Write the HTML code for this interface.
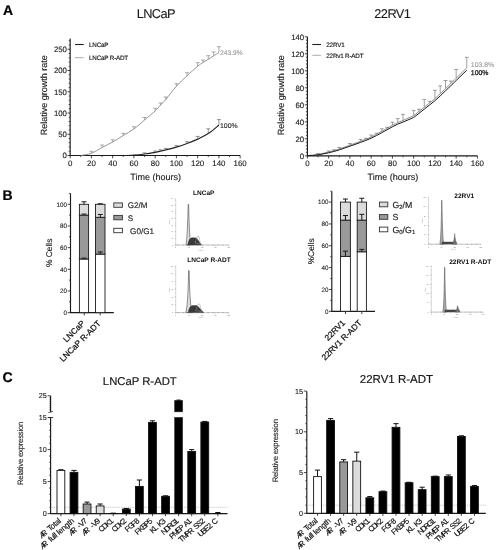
<!DOCTYPE html>
<html><head><meta charset="utf-8"><title>Figure</title>
<style>
html,body{margin:0;padding:0;background:#fff;}
body{width:496px;height:550px;overflow:hidden;}
svg{display:block;text-rendering:geometricPrecision;font-family:'Liberation Sans', Arial, sans-serif;}
</style></head><body>
<svg width="496" height="550" viewBox="0 0 496 550">
<rect x="0" y="0" width="496" height="550" fill="#fff"/>
<text x="3.00" y="14.60" font-size="14" text-anchor="start" fill="#000" font-weight="bold"  stroke="#000" stroke-width="0.224">A</text>
<text x="2.60" y="199.70" font-size="14" text-anchor="start" fill="#000" font-weight="bold"  stroke="#000" stroke-width="0.224">B</text>
<text x="2.60" y="382.30" font-size="14" text-anchor="start" fill="#000" font-weight="bold"  stroke="#000" stroke-width="0.224">C</text>
<line x1="70.15" y1="155.90" x2="70.15" y2="38.62" stroke="#1a1a1a" stroke-width="1.15" />
<line x1="69.75" y1="155.50" x2="240.15" y2="155.50" stroke="#1a1a1a" stroke-width="1.15" />
<line x1="67.55" y1="155.50" x2="70.15" y2="155.50" stroke="#1a1a1a" stroke-width="0.8" />
<text x="66.95" y="158.35" font-size="7.8" text-anchor="end" fill="#222" font-weight="normal"  stroke="#222" stroke-width="0.125">0</text>
<line x1="68.65" y1="151.25" x2="70.15" y2="151.25" stroke="#1a1a1a" stroke-width="0.7" />
<line x1="68.65" y1="147.00" x2="70.15" y2="147.00" stroke="#1a1a1a" stroke-width="0.7" />
<line x1="68.65" y1="142.75" x2="70.15" y2="142.75" stroke="#1a1a1a" stroke-width="0.7" />
<line x1="68.65" y1="138.50" x2="70.15" y2="138.50" stroke="#1a1a1a" stroke-width="0.7" />
<line x1="67.55" y1="134.25" x2="70.15" y2="134.25" stroke="#1a1a1a" stroke-width="0.8" />
<text x="66.95" y="137.10" font-size="7.8" text-anchor="end" fill="#222" font-weight="normal"  stroke="#222" stroke-width="0.125">50</text>
<line x1="68.65" y1="130.00" x2="70.15" y2="130.00" stroke="#1a1a1a" stroke-width="0.7" />
<line x1="68.65" y1="125.75" x2="70.15" y2="125.75" stroke="#1a1a1a" stroke-width="0.7" />
<line x1="68.65" y1="121.50" x2="70.15" y2="121.50" stroke="#1a1a1a" stroke-width="0.7" />
<line x1="68.65" y1="117.25" x2="70.15" y2="117.25" stroke="#1a1a1a" stroke-width="0.7" />
<line x1="67.55" y1="113.00" x2="70.15" y2="113.00" stroke="#1a1a1a" stroke-width="0.8" />
<text x="66.95" y="115.85" font-size="7.8" text-anchor="end" fill="#222" font-weight="normal"  stroke="#222" stroke-width="0.125">100</text>
<line x1="68.65" y1="108.75" x2="70.15" y2="108.75" stroke="#1a1a1a" stroke-width="0.7" />
<line x1="68.65" y1="104.50" x2="70.15" y2="104.50" stroke="#1a1a1a" stroke-width="0.7" />
<line x1="68.65" y1="100.25" x2="70.15" y2="100.25" stroke="#1a1a1a" stroke-width="0.7" />
<line x1="68.65" y1="96.00" x2="70.15" y2="96.00" stroke="#1a1a1a" stroke-width="0.7" />
<line x1="67.55" y1="91.75" x2="70.15" y2="91.75" stroke="#1a1a1a" stroke-width="0.8" />
<text x="66.95" y="94.60" font-size="7.8" text-anchor="end" fill="#222" font-weight="normal"  stroke="#222" stroke-width="0.125">150</text>
<line x1="68.65" y1="87.50" x2="70.15" y2="87.50" stroke="#1a1a1a" stroke-width="0.7" />
<line x1="68.65" y1="83.25" x2="70.15" y2="83.25" stroke="#1a1a1a" stroke-width="0.7" />
<line x1="68.65" y1="79.00" x2="70.15" y2="79.00" stroke="#1a1a1a" stroke-width="0.7" />
<line x1="68.65" y1="74.75" x2="70.15" y2="74.75" stroke="#1a1a1a" stroke-width="0.7" />
<line x1="67.55" y1="70.50" x2="70.15" y2="70.50" stroke="#1a1a1a" stroke-width="0.8" />
<text x="66.95" y="73.35" font-size="7.8" text-anchor="end" fill="#222" font-weight="normal"  stroke="#222" stroke-width="0.125">200</text>
<line x1="68.65" y1="66.25" x2="70.15" y2="66.25" stroke="#1a1a1a" stroke-width="0.7" />
<line x1="68.65" y1="62.00" x2="70.15" y2="62.00" stroke="#1a1a1a" stroke-width="0.7" />
<line x1="68.65" y1="57.75" x2="70.15" y2="57.75" stroke="#1a1a1a" stroke-width="0.7" />
<line x1="68.65" y1="53.50" x2="70.15" y2="53.50" stroke="#1a1a1a" stroke-width="0.7" />
<line x1="67.55" y1="49.25" x2="70.15" y2="49.25" stroke="#1a1a1a" stroke-width="0.8" />
<text x="66.95" y="52.10" font-size="7.8" text-anchor="end" fill="#222" font-weight="normal"  stroke="#222" stroke-width="0.125">250</text>
<line x1="68.65" y1="45.00" x2="70.15" y2="45.00" stroke="#1a1a1a" stroke-width="0.7" />
<line x1="68.65" y1="40.75" x2="70.15" y2="40.75" stroke="#1a1a1a" stroke-width="0.7" />
<line x1="70.15" y1="155.50" x2="70.15" y2="158.30" stroke="#1a1a1a" stroke-width="0.8" />
<text x="70.15" y="166.10" font-size="7.9" text-anchor="middle" fill="#222" font-weight="normal"  stroke="#222" stroke-width="0.126">0</text>
<line x1="80.78" y1="155.50" x2="80.78" y2="157.10" stroke="#1a1a1a" stroke-width="0.7" />
<line x1="91.40" y1="155.50" x2="91.40" y2="158.30" stroke="#1a1a1a" stroke-width="0.8" />
<text x="91.40" y="166.10" font-size="7.9" text-anchor="middle" fill="#222" font-weight="normal"  stroke="#222" stroke-width="0.126">20</text>
<line x1="102.03" y1="155.50" x2="102.03" y2="157.10" stroke="#1a1a1a" stroke-width="0.7" />
<line x1="112.65" y1="155.50" x2="112.65" y2="158.30" stroke="#1a1a1a" stroke-width="0.8" />
<text x="112.65" y="166.10" font-size="7.9" text-anchor="middle" fill="#222" font-weight="normal"  stroke="#222" stroke-width="0.126">40</text>
<line x1="123.28" y1="155.50" x2="123.28" y2="157.10" stroke="#1a1a1a" stroke-width="0.7" />
<line x1="133.90" y1="155.50" x2="133.90" y2="158.30" stroke="#1a1a1a" stroke-width="0.8" />
<text x="133.90" y="166.10" font-size="7.9" text-anchor="middle" fill="#222" font-weight="normal"  stroke="#222" stroke-width="0.126">60</text>
<line x1="144.53" y1="155.50" x2="144.53" y2="157.10" stroke="#1a1a1a" stroke-width="0.7" />
<line x1="155.15" y1="155.50" x2="155.15" y2="158.30" stroke="#1a1a1a" stroke-width="0.8" />
<text x="155.15" y="166.10" font-size="7.9" text-anchor="middle" fill="#222" font-weight="normal"  stroke="#222" stroke-width="0.126">80</text>
<line x1="165.78" y1="155.50" x2="165.78" y2="157.10" stroke="#1a1a1a" stroke-width="0.7" />
<line x1="176.40" y1="155.50" x2="176.40" y2="158.30" stroke="#1a1a1a" stroke-width="0.8" />
<text x="176.40" y="166.10" font-size="7.9" text-anchor="middle" fill="#222" font-weight="normal"  stroke="#222" stroke-width="0.126">100</text>
<line x1="187.03" y1="155.50" x2="187.03" y2="157.10" stroke="#1a1a1a" stroke-width="0.7" />
<line x1="197.65" y1="155.50" x2="197.65" y2="158.30" stroke="#1a1a1a" stroke-width="0.8" />
<text x="197.65" y="166.10" font-size="7.9" text-anchor="middle" fill="#222" font-weight="normal"  stroke="#222" stroke-width="0.126">120</text>
<line x1="208.28" y1="155.50" x2="208.28" y2="157.10" stroke="#1a1a1a" stroke-width="0.7" />
<line x1="218.90" y1="155.50" x2="218.90" y2="158.30" stroke="#1a1a1a" stroke-width="0.8" />
<text x="218.90" y="166.10" font-size="7.9" text-anchor="middle" fill="#222" font-weight="normal"  stroke="#222" stroke-width="0.126">140</text>
<line x1="229.53" y1="155.50" x2="229.53" y2="157.10" stroke="#1a1a1a" stroke-width="0.7" />
<line x1="240.15" y1="155.50" x2="240.15" y2="158.30" stroke="#1a1a1a" stroke-width="0.8" />
<text x="240.15" y="166.10" font-size="7.9" text-anchor="middle" fill="#222" font-weight="normal"  stroke="#222" stroke-width="0.126">160</text>
<text x="155.80" y="17.70" font-size="12.8" text-anchor="middle" fill="#1a1a1a" font-weight="normal" letter-spacing="-0.6" stroke="#1a1a1a" stroke-width="0.1">LNCaP</text>
<text x="47.30" y="95.20" font-size="9" text-anchor="middle" fill="#222" font-weight="normal" transform="rotate(-90 47.30 95.20)"  stroke="#222" stroke-width="0.144">Relative growth rate</text>
<text x="155.65" y="179.60" font-size="9" text-anchor="middle" fill="#222" font-weight="normal"  stroke="#222" stroke-width="0.144">Time (hours)</text>
<line x1="75.05" y1="44.50" x2="83.75" y2="44.50" stroke="#222" stroke-width="1.1" />
<text x="89.05" y="46.80" font-size="6.3" text-anchor="start" fill="#111" font-weight="normal" stroke="#111" stroke-width="0.14" letter-spacing="-0.2">LNCaP</text>
<line x1="75.05" y1="57.70" x2="83.75" y2="57.70" stroke="#aaa" stroke-width="1.0" />
<text x="89.05" y="60.00" font-size="6.3" text-anchor="start" fill="#111" font-weight="normal" stroke="#111" stroke-width="0.14" letter-spacing="-0.2">LNCaP R-ADT</text>
<path d="M80.78,155.50 C82.55,155.13 87.86,154.63 91.40,153.30 C94.94,151.97 98.48,149.38 102.03,147.50 C105.57,145.62 109.11,144.00 112.65,142.00 C116.19,140.00 119.73,137.67 123.28,135.50 C126.82,133.33 130.36,131.58 133.90,129.00 C137.44,126.42 140.98,123.00 144.53,120.00 C148.07,117.00 152.49,113.47 155.15,111.00 C157.81,108.53 158.69,107.12 160.46,105.20 C162.23,103.28 163.12,102.65 165.78,99.50 C168.43,96.35 172.86,90.25 176.40,86.30 C179.94,82.35 183.48,79.13 187.03,75.80 C190.57,72.47 194.99,68.52 197.65,66.30 C200.31,64.08 201.19,63.67 202.96,62.50 C204.73,61.33 206.50,60.42 208.28,59.30 C210.05,58.18 211.82,56.93 213.59,55.80 C215.36,54.67 218.01,53.05 218.90,52.50" fill="none" stroke="#8a8a8a" stroke-width="0.9"/>
<line x1="91.40" y1="153.30" x2="91.40" y2="151.30" stroke="#8a8a8a" stroke-width="0.7" />
<line x1="89.40" y1="151.30" x2="93.40" y2="151.30" stroke="#8a8a8a" stroke-width="0.7" />
<line x1="102.03" y1="147.50" x2="102.03" y2="145.00" stroke="#8a8a8a" stroke-width="0.7" />
<line x1="100.03" y1="145.00" x2="104.03" y2="145.00" stroke="#8a8a8a" stroke-width="0.7" />
<line x1="112.65" y1="142.00" x2="112.65" y2="139.80" stroke="#8a8a8a" stroke-width="0.7" />
<line x1="110.65" y1="139.80" x2="114.65" y2="139.80" stroke="#8a8a8a" stroke-width="0.7" />
<line x1="123.28" y1="135.50" x2="123.28" y2="133.30" stroke="#8a8a8a" stroke-width="0.7" />
<line x1="121.28" y1="133.30" x2="125.28" y2="133.30" stroke="#8a8a8a" stroke-width="0.7" />
<line x1="133.90" y1="129.00" x2="133.90" y2="126.70" stroke="#8a8a8a" stroke-width="0.7" />
<line x1="131.90" y1="126.70" x2="135.90" y2="126.70" stroke="#8a8a8a" stroke-width="0.7" />
<line x1="144.53" y1="120.00" x2="144.53" y2="117.50" stroke="#8a8a8a" stroke-width="0.7" />
<line x1="142.53" y1="117.50" x2="146.53" y2="117.50" stroke="#8a8a8a" stroke-width="0.7" />
<line x1="155.15" y1="111.00" x2="155.15" y2="108.30" stroke="#8a8a8a" stroke-width="0.7" />
<line x1="153.15" y1="108.30" x2="157.15" y2="108.30" stroke="#8a8a8a" stroke-width="0.7" />
<line x1="160.46" y1="105.20" x2="160.46" y2="103.00" stroke="#8a8a8a" stroke-width="0.7" />
<line x1="158.46" y1="103.00" x2="162.46" y2="103.00" stroke="#8a8a8a" stroke-width="0.7" />
<line x1="165.78" y1="99.50" x2="165.78" y2="97.00" stroke="#8a8a8a" stroke-width="0.7" />
<line x1="163.78" y1="97.00" x2="167.78" y2="97.00" stroke="#8a8a8a" stroke-width="0.7" />
<line x1="176.40" y1="86.30" x2="176.40" y2="83.70" stroke="#8a8a8a" stroke-width="0.7" />
<line x1="174.40" y1="83.70" x2="178.40" y2="83.70" stroke="#8a8a8a" stroke-width="0.7" />
<line x1="187.03" y1="75.80" x2="187.03" y2="72.70" stroke="#8a8a8a" stroke-width="0.7" />
<line x1="185.03" y1="72.70" x2="189.03" y2="72.70" stroke="#8a8a8a" stroke-width="0.7" />
<line x1="197.65" y1="66.30" x2="197.65" y2="62.70" stroke="#8a8a8a" stroke-width="0.7" />
<line x1="195.65" y1="62.70" x2="199.65" y2="62.70" stroke="#8a8a8a" stroke-width="0.7" />
<line x1="202.96" y1="62.50" x2="202.96" y2="60.00" stroke="#8a8a8a" stroke-width="0.7" />
<line x1="200.96" y1="60.00" x2="204.96" y2="60.00" stroke="#8a8a8a" stroke-width="0.7" />
<line x1="208.28" y1="59.30" x2="208.28" y2="55.70" stroke="#8a8a8a" stroke-width="0.7" />
<line x1="206.28" y1="55.70" x2="210.28" y2="55.70" stroke="#8a8a8a" stroke-width="0.7" />
<line x1="213.59" y1="55.80" x2="213.59" y2="52.00" stroke="#8a8a8a" stroke-width="0.7" />
<line x1="211.59" y1="52.00" x2="215.59" y2="52.00" stroke="#8a8a8a" stroke-width="0.7" />
<line x1="218.90" y1="52.50" x2="218.90" y2="46.70" stroke="#8a8a8a" stroke-width="0.7" />
<line x1="216.90" y1="46.70" x2="220.90" y2="46.70" stroke="#8a8a8a" stroke-width="0.7" />
<path d="M128.59,155.50 C129.47,155.45 131.24,155.45 133.90,155.20 C136.56,154.95 140.98,154.48 144.53,154.00 C148.07,153.52 152.49,152.77 155.15,152.30 C157.81,151.83 158.69,151.60 160.46,151.20 C162.23,150.80 163.12,150.58 165.78,149.90 C168.43,149.22 172.86,148.17 176.40,147.10 C179.94,146.03 183.48,144.83 187.03,143.50 C190.57,142.17 194.11,140.75 197.65,139.10 C201.19,137.45 204.73,135.92 208.28,133.60 C211.82,131.28 217.13,126.60 218.90,125.20" fill="none" stroke="#222" stroke-width="1.2"/>
<line x1="144.53" y1="154.00" x2="144.53" y2="152.90" stroke="#666" stroke-width="0.7" />
<line x1="142.53" y1="152.90" x2="146.53" y2="152.90" stroke="#666" stroke-width="0.7" />
<line x1="155.15" y1="152.30" x2="155.15" y2="151.00" stroke="#666" stroke-width="0.7" />
<line x1="153.15" y1="151.00" x2="157.15" y2="151.00" stroke="#666" stroke-width="0.7" />
<line x1="160.46" y1="151.20" x2="160.46" y2="149.80" stroke="#666" stroke-width="0.7" />
<line x1="158.46" y1="149.80" x2="162.46" y2="149.80" stroke="#666" stroke-width="0.7" />
<line x1="165.78" y1="149.90" x2="165.78" y2="148.40" stroke="#666" stroke-width="0.7" />
<line x1="163.78" y1="148.40" x2="167.78" y2="148.40" stroke="#666" stroke-width="0.7" />
<line x1="176.40" y1="147.10" x2="176.40" y2="145.60" stroke="#666" stroke-width="0.7" />
<line x1="174.40" y1="145.60" x2="178.40" y2="145.60" stroke="#666" stroke-width="0.7" />
<line x1="187.03" y1="143.50" x2="187.03" y2="141.70" stroke="#666" stroke-width="0.7" />
<line x1="185.03" y1="141.70" x2="189.03" y2="141.70" stroke="#666" stroke-width="0.7" />
<line x1="197.65" y1="139.10" x2="197.65" y2="136.40" stroke="#666" stroke-width="0.7" />
<line x1="195.65" y1="136.40" x2="199.65" y2="136.40" stroke="#666" stroke-width="0.7" />
<line x1="208.28" y1="133.60" x2="208.28" y2="128.80" stroke="#666" stroke-width="0.7" />
<line x1="206.28" y1="128.80" x2="210.28" y2="128.80" stroke="#666" stroke-width="0.7" />
<line x1="218.90" y1="125.20" x2="218.90" y2="119.60" stroke="#666" stroke-width="0.7" />
<line x1="216.90" y1="119.60" x2="220.90" y2="119.60" stroke="#666" stroke-width="0.7" />
<text x="220.00" y="55.40" font-size="6.7" text-anchor="start" fill="#999" font-weight="normal"  stroke="#999" stroke-width="0.107">243.9%</text>
<text x="220.00" y="127.90" font-size="6.9" text-anchor="start" fill="#222" font-weight="normal"  stroke="#222" stroke-width="0.110">100%</text>
<line x1="307.40" y1="156.20" x2="307.40" y2="36.80" stroke="#1a1a1a" stroke-width="1.15" />
<line x1="307.00" y1="155.80" x2="477.40" y2="155.80" stroke="#1a1a1a" stroke-width="1.15" />
<line x1="304.80" y1="155.80" x2="307.40" y2="155.80" stroke="#1a1a1a" stroke-width="0.8" />
<text x="304.20" y="158.65" font-size="7.8" text-anchor="end" fill="#222" font-weight="normal"  stroke="#222" stroke-width="0.125">0</text>
<line x1="305.90" y1="152.40" x2="307.40" y2="152.40" stroke="#1a1a1a" stroke-width="0.7" />
<line x1="305.90" y1="149.00" x2="307.40" y2="149.00" stroke="#1a1a1a" stroke-width="0.7" />
<line x1="305.90" y1="145.60" x2="307.40" y2="145.60" stroke="#1a1a1a" stroke-width="0.7" />
<line x1="305.90" y1="142.20" x2="307.40" y2="142.20" stroke="#1a1a1a" stroke-width="0.7" />
<line x1="304.80" y1="138.80" x2="307.40" y2="138.80" stroke="#1a1a1a" stroke-width="0.8" />
<text x="304.20" y="141.65" font-size="7.8" text-anchor="end" fill="#222" font-weight="normal"  stroke="#222" stroke-width="0.125">20</text>
<line x1="305.90" y1="135.40" x2="307.40" y2="135.40" stroke="#1a1a1a" stroke-width="0.7" />
<line x1="305.90" y1="132.00" x2="307.40" y2="132.00" stroke="#1a1a1a" stroke-width="0.7" />
<line x1="305.90" y1="128.60" x2="307.40" y2="128.60" stroke="#1a1a1a" stroke-width="0.7" />
<line x1="305.90" y1="125.20" x2="307.40" y2="125.20" stroke="#1a1a1a" stroke-width="0.7" />
<line x1="304.80" y1="121.80" x2="307.40" y2="121.80" stroke="#1a1a1a" stroke-width="0.8" />
<text x="304.20" y="124.65" font-size="7.8" text-anchor="end" fill="#222" font-weight="normal"  stroke="#222" stroke-width="0.125">40</text>
<line x1="305.90" y1="118.40" x2="307.40" y2="118.40" stroke="#1a1a1a" stroke-width="0.7" />
<line x1="305.90" y1="115.00" x2="307.40" y2="115.00" stroke="#1a1a1a" stroke-width="0.7" />
<line x1="305.90" y1="111.60" x2="307.40" y2="111.60" stroke="#1a1a1a" stroke-width="0.7" />
<line x1="305.90" y1="108.20" x2="307.40" y2="108.20" stroke="#1a1a1a" stroke-width="0.7" />
<line x1="304.80" y1="104.80" x2="307.40" y2="104.80" stroke="#1a1a1a" stroke-width="0.8" />
<text x="304.20" y="107.65" font-size="7.8" text-anchor="end" fill="#222" font-weight="normal"  stroke="#222" stroke-width="0.125">60</text>
<line x1="305.90" y1="101.40" x2="307.40" y2="101.40" stroke="#1a1a1a" stroke-width="0.7" />
<line x1="305.90" y1="98.00" x2="307.40" y2="98.00" stroke="#1a1a1a" stroke-width="0.7" />
<line x1="305.90" y1="94.60" x2="307.40" y2="94.60" stroke="#1a1a1a" stroke-width="0.7" />
<line x1="305.90" y1="91.20" x2="307.40" y2="91.20" stroke="#1a1a1a" stroke-width="0.7" />
<line x1="304.80" y1="87.80" x2="307.40" y2="87.80" stroke="#1a1a1a" stroke-width="0.8" />
<text x="304.20" y="90.65" font-size="7.8" text-anchor="end" fill="#222" font-weight="normal"  stroke="#222" stroke-width="0.125">80</text>
<line x1="305.90" y1="84.40" x2="307.40" y2="84.40" stroke="#1a1a1a" stroke-width="0.7" />
<line x1="305.90" y1="81.00" x2="307.40" y2="81.00" stroke="#1a1a1a" stroke-width="0.7" />
<line x1="305.90" y1="77.60" x2="307.40" y2="77.60" stroke="#1a1a1a" stroke-width="0.7" />
<line x1="305.90" y1="74.20" x2="307.40" y2="74.20" stroke="#1a1a1a" stroke-width="0.7" />
<line x1="304.80" y1="70.80" x2="307.40" y2="70.80" stroke="#1a1a1a" stroke-width="0.8" />
<text x="304.20" y="73.65" font-size="7.8" text-anchor="end" fill="#222" font-weight="normal"  stroke="#222" stroke-width="0.125">100</text>
<line x1="305.90" y1="67.40" x2="307.40" y2="67.40" stroke="#1a1a1a" stroke-width="0.7" />
<line x1="305.90" y1="64.00" x2="307.40" y2="64.00" stroke="#1a1a1a" stroke-width="0.7" />
<line x1="305.90" y1="60.60" x2="307.40" y2="60.60" stroke="#1a1a1a" stroke-width="0.7" />
<line x1="305.90" y1="57.20" x2="307.40" y2="57.20" stroke="#1a1a1a" stroke-width="0.7" />
<line x1="304.80" y1="53.80" x2="307.40" y2="53.80" stroke="#1a1a1a" stroke-width="0.8" />
<text x="304.20" y="56.65" font-size="7.8" text-anchor="end" fill="#222" font-weight="normal"  stroke="#222" stroke-width="0.125">120</text>
<line x1="305.90" y1="50.40" x2="307.40" y2="50.40" stroke="#1a1a1a" stroke-width="0.7" />
<line x1="305.90" y1="47.00" x2="307.40" y2="47.00" stroke="#1a1a1a" stroke-width="0.7" />
<line x1="305.90" y1="43.60" x2="307.40" y2="43.60" stroke="#1a1a1a" stroke-width="0.7" />
<line x1="305.90" y1="40.20" x2="307.40" y2="40.20" stroke="#1a1a1a" stroke-width="0.7" />
<line x1="304.80" y1="36.80" x2="307.40" y2="36.80" stroke="#1a1a1a" stroke-width="0.8" />
<text x="304.20" y="39.65" font-size="7.8" text-anchor="end" fill="#222" font-weight="normal"  stroke="#222" stroke-width="0.125">140</text>
<line x1="307.40" y1="155.80" x2="307.40" y2="158.60" stroke="#1a1a1a" stroke-width="0.8" />
<text x="307.40" y="166.40" font-size="7.9" text-anchor="middle" fill="#222" font-weight="normal"  stroke="#222" stroke-width="0.126">0</text>
<line x1="318.02" y1="155.80" x2="318.02" y2="157.40" stroke="#1a1a1a" stroke-width="0.7" />
<line x1="328.65" y1="155.80" x2="328.65" y2="158.60" stroke="#1a1a1a" stroke-width="0.8" />
<text x="328.65" y="166.40" font-size="7.9" text-anchor="middle" fill="#222" font-weight="normal"  stroke="#222" stroke-width="0.126">20</text>
<line x1="339.27" y1="155.80" x2="339.27" y2="157.40" stroke="#1a1a1a" stroke-width="0.7" />
<line x1="349.90" y1="155.80" x2="349.90" y2="158.60" stroke="#1a1a1a" stroke-width="0.8" />
<text x="349.90" y="166.40" font-size="7.9" text-anchor="middle" fill="#222" font-weight="normal"  stroke="#222" stroke-width="0.126">40</text>
<line x1="360.52" y1="155.80" x2="360.52" y2="157.40" stroke="#1a1a1a" stroke-width="0.7" />
<line x1="371.15" y1="155.80" x2="371.15" y2="158.60" stroke="#1a1a1a" stroke-width="0.8" />
<text x="371.15" y="166.40" font-size="7.9" text-anchor="middle" fill="#222" font-weight="normal"  stroke="#222" stroke-width="0.126">60</text>
<line x1="381.77" y1="155.80" x2="381.77" y2="157.40" stroke="#1a1a1a" stroke-width="0.7" />
<line x1="392.40" y1="155.80" x2="392.40" y2="158.60" stroke="#1a1a1a" stroke-width="0.8" />
<text x="392.40" y="166.40" font-size="7.9" text-anchor="middle" fill="#222" font-weight="normal"  stroke="#222" stroke-width="0.126">80</text>
<line x1="403.02" y1="155.80" x2="403.02" y2="157.40" stroke="#1a1a1a" stroke-width="0.7" />
<line x1="413.65" y1="155.80" x2="413.65" y2="158.60" stroke="#1a1a1a" stroke-width="0.8" />
<text x="413.65" y="166.40" font-size="7.9" text-anchor="middle" fill="#222" font-weight="normal"  stroke="#222" stroke-width="0.126">100</text>
<line x1="424.27" y1="155.80" x2="424.27" y2="157.40" stroke="#1a1a1a" stroke-width="0.7" />
<line x1="434.90" y1="155.80" x2="434.90" y2="158.60" stroke="#1a1a1a" stroke-width="0.8" />
<text x="434.90" y="166.40" font-size="7.9" text-anchor="middle" fill="#222" font-weight="normal"  stroke="#222" stroke-width="0.126">120</text>
<line x1="445.52" y1="155.80" x2="445.52" y2="157.40" stroke="#1a1a1a" stroke-width="0.7" />
<line x1="456.15" y1="155.80" x2="456.15" y2="158.60" stroke="#1a1a1a" stroke-width="0.8" />
<text x="456.15" y="166.40" font-size="7.9" text-anchor="middle" fill="#222" font-weight="normal"  stroke="#222" stroke-width="0.126">140</text>
<line x1="466.77" y1="155.80" x2="466.77" y2="157.40" stroke="#1a1a1a" stroke-width="0.7" />
<line x1="477.40" y1="155.80" x2="477.40" y2="158.60" stroke="#1a1a1a" stroke-width="0.8" />
<text x="477.40" y="166.40" font-size="7.9" text-anchor="middle" fill="#222" font-weight="normal"  stroke="#222" stroke-width="0.126">160</text>
<text x="392.30" y="17.70" font-size="12.8" text-anchor="middle" fill="#1a1a1a" font-weight="normal" letter-spacing="-0.6" stroke="#1a1a1a" stroke-width="0.1">22RV1</text>
<text x="283.60" y="95.20" font-size="9" text-anchor="middle" fill="#222" font-weight="normal" transform="rotate(-90 283.60 95.20)"  stroke="#222" stroke-width="0.144">Relative growth rate</text>
<text x="392.90" y="179.60" font-size="9" text-anchor="middle" fill="#222" font-weight="normal"  stroke="#222" stroke-width="0.144">Time (hours)</text>
<line x1="312.30" y1="44.50" x2="321.00" y2="44.50" stroke="#222" stroke-width="1.1" />
<text x="326.30" y="46.80" font-size="6.3" text-anchor="start" fill="#111" font-weight="normal" stroke="#111" stroke-width="0.14" letter-spacing="-0.2">22RV1</text>
<line x1="312.30" y1="55.30" x2="321.00" y2="55.30" stroke="#aaa" stroke-width="1.0" />
<text x="326.30" y="57.60" font-size="6.3" text-anchor="start" fill="#111" font-weight="normal" stroke="#111" stroke-width="0.14" letter-spacing="-0.2">22Rv1 R-ADT</text>
<polyline points="307.40,155.60 312.71,155.20 318.02,154.50 328.65,152.00 333.96,150.60 339.27,149.00 349.90,145.20 360.52,141.30 365.84,139.30 371.15,137.00 376.46,134.30 381.77,131.30 387.09,128.30 392.40,125.30 397.71,122.60 403.02,120.40 413.65,115.70 418.96,111.50 424.27,107.20 429.59,103.00 434.90,98.70 440.21,93.80 445.52,88.60 450.84,83.50 456.15,78.20 466.77,67.80" fill="none" stroke="#777" stroke-width="0.8" stroke-linejoin="round" />
<line x1="318.02" y1="154.50" x2="318.02" y2="153.50" stroke="#777" stroke-width="0.7" />
<line x1="316.12" y1="153.50" x2="319.92" y2="153.50" stroke="#777" stroke-width="0.7" />
<line x1="328.65" y1="152.00" x2="328.65" y2="151.00" stroke="#777" stroke-width="0.7" />
<line x1="326.75" y1="151.00" x2="330.55" y2="151.00" stroke="#777" stroke-width="0.7" />
<line x1="333.96" y1="150.60" x2="333.96" y2="149.80" stroke="#777" stroke-width="0.7" />
<line x1="332.06" y1="149.80" x2="335.86" y2="149.80" stroke="#777" stroke-width="0.7" />
<line x1="339.27" y1="149.00" x2="339.27" y2="147.50" stroke="#777" stroke-width="0.7" />
<line x1="337.38" y1="147.50" x2="341.17" y2="147.50" stroke="#777" stroke-width="0.7" />
<line x1="349.90" y1="145.20" x2="349.90" y2="143.50" stroke="#777" stroke-width="0.7" />
<line x1="348.00" y1="143.50" x2="351.80" y2="143.50" stroke="#777" stroke-width="0.7" />
<line x1="360.52" y1="141.30" x2="360.52" y2="139.50" stroke="#777" stroke-width="0.7" />
<line x1="358.62" y1="139.50" x2="362.42" y2="139.50" stroke="#777" stroke-width="0.7" />
<line x1="365.84" y1="139.30" x2="365.84" y2="138.30" stroke="#777" stroke-width="0.7" />
<line x1="363.94" y1="138.30" x2="367.74" y2="138.30" stroke="#777" stroke-width="0.7" />
<line x1="371.15" y1="137.00" x2="371.15" y2="135.00" stroke="#777" stroke-width="0.7" />
<line x1="369.25" y1="135.00" x2="373.05" y2="135.00" stroke="#777" stroke-width="0.7" />
<line x1="376.46" y1="134.30" x2="376.46" y2="133.30" stroke="#777" stroke-width="0.7" />
<line x1="374.56" y1="133.30" x2="378.36" y2="133.30" stroke="#777" stroke-width="0.7" />
<line x1="381.77" y1="131.30" x2="381.77" y2="128.75" stroke="#777" stroke-width="0.7" />
<line x1="379.88" y1="128.75" x2="383.67" y2="128.75" stroke="#777" stroke-width="0.7" />
<line x1="387.09" y1="128.30" x2="387.09" y2="127.30" stroke="#777" stroke-width="0.7" />
<line x1="385.19" y1="127.30" x2="388.99" y2="127.30" stroke="#777" stroke-width="0.7" />
<line x1="392.40" y1="125.30" x2="392.40" y2="122.20" stroke="#777" stroke-width="0.7" />
<line x1="390.50" y1="122.20" x2="394.30" y2="122.20" stroke="#777" stroke-width="0.7" />
<line x1="397.71" y1="122.60" x2="397.71" y2="118.60" stroke="#777" stroke-width="0.7" />
<line x1="395.81" y1="118.60" x2="399.61" y2="118.60" stroke="#777" stroke-width="0.7" />
<line x1="403.02" y1="120.40" x2="403.02" y2="114.40" stroke="#777" stroke-width="0.7" />
<line x1="401.12" y1="114.40" x2="404.92" y2="114.40" stroke="#777" stroke-width="0.7" />
<line x1="413.65" y1="115.70" x2="413.65" y2="110.40" stroke="#777" stroke-width="0.7" />
<line x1="411.75" y1="110.40" x2="415.55" y2="110.40" stroke="#777" stroke-width="0.7" />
<line x1="418.96" y1="111.50" x2="418.96" y2="109.20" stroke="#777" stroke-width="0.7" />
<line x1="417.06" y1="109.20" x2="420.86" y2="109.20" stroke="#777" stroke-width="0.7" />
<line x1="424.27" y1="107.20" x2="424.27" y2="99.40" stroke="#777" stroke-width="0.7" />
<line x1="422.38" y1="99.40" x2="426.17" y2="99.40" stroke="#777" stroke-width="0.7" />
<line x1="429.59" y1="103.00" x2="429.59" y2="101.30" stroke="#777" stroke-width="0.7" />
<line x1="427.69" y1="101.30" x2="431.49" y2="101.30" stroke="#777" stroke-width="0.7" />
<line x1="434.90" y1="98.70" x2="434.90" y2="90.30" stroke="#777" stroke-width="0.7" />
<line x1="433.00" y1="90.30" x2="436.80" y2="90.30" stroke="#777" stroke-width="0.7" />
<line x1="440.21" y1="93.80" x2="440.21" y2="85.90" stroke="#777" stroke-width="0.7" />
<line x1="438.31" y1="85.90" x2="442.11" y2="85.90" stroke="#777" stroke-width="0.7" />
<line x1="445.52" y1="88.60" x2="445.52" y2="80.50" stroke="#777" stroke-width="0.7" />
<line x1="443.62" y1="80.50" x2="447.42" y2="80.50" stroke="#777" stroke-width="0.7" />
<line x1="450.84" y1="83.50" x2="450.84" y2="81.00" stroke="#777" stroke-width="0.7" />
<line x1="448.94" y1="81.00" x2="452.74" y2="81.00" stroke="#777" stroke-width="0.7" />
<line x1="456.15" y1="78.20" x2="456.15" y2="69.40" stroke="#777" stroke-width="0.7" />
<line x1="454.25" y1="69.40" x2="458.05" y2="69.40" stroke="#777" stroke-width="0.7" />
<line x1="466.77" y1="67.80" x2="466.77" y2="57.30" stroke="#777" stroke-width="0.7" />
<line x1="464.88" y1="57.30" x2="468.67" y2="57.30" stroke="#777" stroke-width="0.7" />
<polyline points="307.40,155.60 312.71,155.40 318.02,154.90 328.65,152.80 333.96,151.45 339.27,149.90 349.90,146.20 360.52,142.40 365.84,140.45 371.15,138.20 376.46,135.58 381.77,132.65 387.09,129.73 392.40,126.80 397.71,124.17 403.02,122.05 413.65,117.50 418.96,113.36 424.27,109.12 429.59,104.98 434.90,100.74 440.21,95.90 445.52,90.76 450.84,85.72 456.15,80.48 466.77,70.20" fill="none" stroke="#1a1a1a" stroke-width="1.0" stroke-linejoin="round" />
<text x="470.80" y="66.90" font-size="6.9" text-anchor="start" fill="#999" font-weight="normal"  stroke="#999" stroke-width="0.110">103.8%</text>
<text x="470.80" y="75.20" font-size="6.9" text-anchor="start" fill="#111" font-weight="normal" stroke="#111" stroke-width="0.25">100%</text>
<line x1="70.50" y1="313.05" x2="70.50" y2="193.47" stroke="#1a1a1a" stroke-width="1.15" />
<line x1="70.10" y1="312.65" x2="113.80" y2="312.65" stroke="#1a1a1a" stroke-width="1.15" />
<line x1="67.70" y1="312.65" x2="70.50" y2="312.65" stroke="#1a1a1a" stroke-width="0.8" />
<text x="67.10" y="314.90" font-size="6.3" text-anchor="end" fill="#222" font-weight="normal"  stroke="#222" stroke-width="0.101">0</text>
<line x1="68.90" y1="301.81" x2="70.50" y2="301.81" stroke="#1a1a1a" stroke-width="0.7" />
<line x1="67.70" y1="290.98" x2="70.50" y2="290.98" stroke="#1a1a1a" stroke-width="0.8" />
<text x="67.10" y="293.23" font-size="6.3" text-anchor="end" fill="#222" font-weight="normal"  stroke="#222" stroke-width="0.101">20</text>
<line x1="68.90" y1="280.14" x2="70.50" y2="280.14" stroke="#1a1a1a" stroke-width="0.7" />
<line x1="67.70" y1="269.31" x2="70.50" y2="269.31" stroke="#1a1a1a" stroke-width="0.8" />
<text x="67.10" y="271.56" font-size="6.3" text-anchor="end" fill="#222" font-weight="normal"  stroke="#222" stroke-width="0.101">40</text>
<line x1="68.90" y1="258.48" x2="70.50" y2="258.48" stroke="#1a1a1a" stroke-width="0.7" />
<line x1="67.70" y1="247.64" x2="70.50" y2="247.64" stroke="#1a1a1a" stroke-width="0.8" />
<text x="67.10" y="249.89" font-size="6.3" text-anchor="end" fill="#222" font-weight="normal"  stroke="#222" stroke-width="0.101">60</text>
<line x1="68.90" y1="236.81" x2="70.50" y2="236.81" stroke="#1a1a1a" stroke-width="0.7" />
<line x1="67.70" y1="225.97" x2="70.50" y2="225.97" stroke="#1a1a1a" stroke-width="0.8" />
<text x="67.10" y="228.22" font-size="6.3" text-anchor="end" fill="#222" font-weight="normal"  stroke="#222" stroke-width="0.101">80</text>
<line x1="68.90" y1="215.13" x2="70.50" y2="215.13" stroke="#1a1a1a" stroke-width="0.7" />
<line x1="67.70" y1="204.30" x2="70.50" y2="204.30" stroke="#1a1a1a" stroke-width="0.8" />
<text x="67.10" y="206.55" font-size="6.3" text-anchor="end" fill="#222" font-weight="normal"  stroke="#222" stroke-width="0.101">100</text>
<line x1="68.90" y1="193.47" x2="70.50" y2="193.47" stroke="#1a1a1a" stroke-width="0.7" />
<line x1="84.30" y1="312.65" x2="84.30" y2="315.45" stroke="#1a1a1a" stroke-width="0.8" />
<line x1="100.20" y1="312.65" x2="100.20" y2="315.45" stroke="#1a1a1a" stroke-width="0.8" />
<rect x="79.40" y="259.02" width="9.20" height="53.63" fill="#fff" stroke="#1a1a1a" stroke-width="0.9"/>
<rect x="79.40" y="215.13" width="9.20" height="43.88" fill="#999" stroke="#1a1a1a" stroke-width="0.9"/>
<rect x="79.40" y="204.30" width="9.20" height="10.83" fill="#dcdcdc" stroke="#1a1a1a" stroke-width="0.9"/>
<line x1="84.00" y1="259.02" x2="84.00" y2="258.15" stroke="#1a1a1a" stroke-width="1.0" />
<line x1="81.50" y1="258.15" x2="86.50" y2="258.15" stroke="#1a1a1a" stroke-width="1.0" />
<line x1="84.00" y1="215.13" x2="84.00" y2="214.05" stroke="#1a1a1a" stroke-width="1.0" />
<line x1="81.50" y1="214.05" x2="86.50" y2="214.05" stroke="#1a1a1a" stroke-width="1.0" />
<line x1="84.00" y1="204.30" x2="84.00" y2="201.81" stroke="#1a1a1a" stroke-width="1.0" />
<line x1="81.50" y1="201.81" x2="86.50" y2="201.81" stroke="#1a1a1a" stroke-width="1.0" />
<rect x="95.50" y="254.14" width="9.50" height="58.51" fill="#fff" stroke="#1a1a1a" stroke-width="0.9"/>
<rect x="95.50" y="217.30" width="9.50" height="36.84" fill="#999" stroke="#1a1a1a" stroke-width="0.9"/>
<rect x="95.50" y="204.30" width="9.50" height="13.00" fill="#dcdcdc" stroke="#1a1a1a" stroke-width="0.9"/>
<line x1="100.25" y1="254.14" x2="100.25" y2="251.97" stroke="#1a1a1a" stroke-width="1.0" />
<line x1="97.75" y1="251.97" x2="102.75" y2="251.97" stroke="#1a1a1a" stroke-width="1.0" />
<line x1="100.25" y1="217.30" x2="100.25" y2="214.48" stroke="#1a1a1a" stroke-width="1.0" />
<line x1="97.75" y1="214.48" x2="102.75" y2="214.48" stroke="#1a1a1a" stroke-width="1.0" />
<line x1="100.25" y1="204.30" x2="100.25" y2="203.76" stroke="#1a1a1a" stroke-width="1.0" />
<line x1="97.75" y1="203.76" x2="102.75" y2="203.76" stroke="#1a1a1a" stroke-width="1.0" />
<text x="52.20" y="252.80" font-size="8.4" text-anchor="middle" fill="#222" font-weight="normal" transform="rotate(-90 52.20 252.80)"  stroke="#222" stroke-width="0.134">% Cells</text>
<text x="85.40" y="323.90" font-size="8.3" text-anchor="end" fill="#111" font-weight="normal" transform="rotate(-45 85.40 323.90)" stroke="#111" stroke-width="0.22">LNCaP</text>
<text x="101.40" y="323.90" font-size="8.3" text-anchor="end" fill="#111" font-weight="normal" transform="rotate(-45 101.40 323.90)" stroke="#111" stroke-width="0.22">LNCaP R-ADT</text>
<rect x="113.80" y="202.90" width="8.60" height="4.40" fill="#dcdcdc" stroke="#333" stroke-width="0.9"/>
<text x="127.70" y="208.30" font-size="8.1" text-anchor="start" fill="#222" font-weight="normal"  stroke="#222" stroke-width="0.130">G2/M</text>
<rect x="113.80" y="215.40" width="8.60" height="4.40" fill="#999" stroke="#333" stroke-width="0.9"/>
<text x="127.70" y="220.80" font-size="8.1" text-anchor="start" fill="#222" font-weight="normal"  stroke="#222" stroke-width="0.130">S</text>
<rect x="113.80" y="228.30" width="8.60" height="4.40" fill="#fff" stroke="#333" stroke-width="0.9"/>
<text x="130.10" y="233.70" font-size="8.1" text-anchor="start" fill="#222" font-weight="normal"  stroke="#222" stroke-width="0.130">G0/G1</text>
<line x1="331.80" y1="311.70" x2="331.80" y2="191.18" stroke="#1a1a1a" stroke-width="1.15" />
<line x1="331.40" y1="311.30" x2="375.00" y2="311.30" stroke="#1a1a1a" stroke-width="1.15" />
<line x1="329.00" y1="311.30" x2="331.80" y2="311.30" stroke="#1a1a1a" stroke-width="0.8" />
<text x="328.40" y="313.55" font-size="6.3" text-anchor="end" fill="#222" font-weight="normal"  stroke="#222" stroke-width="0.101">0</text>
<line x1="330.20" y1="300.38" x2="331.80" y2="300.38" stroke="#1a1a1a" stroke-width="0.7" />
<line x1="329.00" y1="289.46" x2="331.80" y2="289.46" stroke="#1a1a1a" stroke-width="0.8" />
<text x="328.40" y="291.71" font-size="6.3" text-anchor="end" fill="#222" font-weight="normal"  stroke="#222" stroke-width="0.101">20</text>
<line x1="330.20" y1="278.54" x2="331.80" y2="278.54" stroke="#1a1a1a" stroke-width="0.7" />
<line x1="329.00" y1="267.62" x2="331.80" y2="267.62" stroke="#1a1a1a" stroke-width="0.8" />
<text x="328.40" y="269.87" font-size="6.3" text-anchor="end" fill="#222" font-weight="normal"  stroke="#222" stroke-width="0.101">40</text>
<line x1="330.20" y1="256.70" x2="331.80" y2="256.70" stroke="#1a1a1a" stroke-width="0.7" />
<line x1="329.00" y1="245.78" x2="331.80" y2="245.78" stroke="#1a1a1a" stroke-width="0.8" />
<text x="328.40" y="248.03" font-size="6.3" text-anchor="end" fill="#222" font-weight="normal"  stroke="#222" stroke-width="0.101">60</text>
<line x1="330.20" y1="234.86" x2="331.80" y2="234.86" stroke="#1a1a1a" stroke-width="0.7" />
<line x1="329.00" y1="223.94" x2="331.80" y2="223.94" stroke="#1a1a1a" stroke-width="0.8" />
<text x="328.40" y="226.19" font-size="6.3" text-anchor="end" fill="#222" font-weight="normal"  stroke="#222" stroke-width="0.101">80</text>
<line x1="330.20" y1="213.02" x2="331.80" y2="213.02" stroke="#1a1a1a" stroke-width="0.7" />
<line x1="329.00" y1="202.10" x2="331.80" y2="202.10" stroke="#1a1a1a" stroke-width="0.8" />
<text x="328.40" y="204.35" font-size="6.3" text-anchor="end" fill="#222" font-weight="normal"  stroke="#222" stroke-width="0.101">100</text>
<line x1="330.20" y1="191.18" x2="331.80" y2="191.18" stroke="#1a1a1a" stroke-width="0.7" />
<line x1="345.50" y1="311.30" x2="345.50" y2="314.10" stroke="#1a1a1a" stroke-width="0.8" />
<line x1="361.80" y1="311.30" x2="361.80" y2="314.10" stroke="#1a1a1a" stroke-width="0.8" />
<rect x="340.50" y="256.37" width="9.90" height="54.93" fill="#fff" stroke="#1a1a1a" stroke-width="0.9"/>
<rect x="340.50" y="220.12" width="9.90" height="36.25" fill="#999" stroke="#1a1a1a" stroke-width="0.9"/>
<rect x="340.50" y="202.10" width="9.90" height="18.02" fill="#dcdcdc" stroke="#1a1a1a" stroke-width="0.9"/>
<line x1="345.45" y1="256.37" x2="345.45" y2="251.13" stroke="#1a1a1a" stroke-width="1.0" />
<line x1="342.95" y1="251.13" x2="347.95" y2="251.13" stroke="#1a1a1a" stroke-width="1.0" />
<line x1="345.45" y1="220.12" x2="345.45" y2="215.53" stroke="#1a1a1a" stroke-width="1.0" />
<line x1="342.95" y1="215.53" x2="347.95" y2="215.53" stroke="#1a1a1a" stroke-width="1.0" />
<line x1="345.45" y1="202.10" x2="345.45" y2="199.04" stroke="#1a1a1a" stroke-width="1.0" />
<line x1="342.95" y1="199.04" x2="347.95" y2="199.04" stroke="#1a1a1a" stroke-width="1.0" />
<rect x="357.20" y="251.79" width="9.20" height="59.51" fill="#fff" stroke="#1a1a1a" stroke-width="0.9"/>
<rect x="357.20" y="220.12" width="9.20" height="31.67" fill="#999" stroke="#1a1a1a" stroke-width="0.9"/>
<rect x="357.20" y="202.10" width="9.20" height="18.02" fill="#dcdcdc" stroke="#1a1a1a" stroke-width="0.9"/>
<line x1="361.80" y1="251.79" x2="361.80" y2="249.38" stroke="#1a1a1a" stroke-width="1.0" />
<line x1="359.30" y1="249.38" x2="364.30" y2="249.38" stroke="#1a1a1a" stroke-width="1.0" />
<line x1="361.80" y1="220.12" x2="361.80" y2="214.33" stroke="#1a1a1a" stroke-width="1.0" />
<line x1="359.30" y1="214.33" x2="364.30" y2="214.33" stroke="#1a1a1a" stroke-width="1.0" />
<line x1="361.80" y1="202.10" x2="361.80" y2="198.28" stroke="#1a1a1a" stroke-width="1.0" />
<line x1="359.30" y1="198.28" x2="364.30" y2="198.28" stroke="#1a1a1a" stroke-width="1.0" />
<text x="313.80" y="251.30" font-size="8.4" text-anchor="middle" fill="#222" font-weight="normal" transform="rotate(-90 313.80 251.30)"  stroke="#222" stroke-width="0.134">%Cells</text>
<text x="345.80" y="323.40" font-size="8.3" text-anchor="end" fill="#111" font-weight="normal" transform="rotate(-45 345.80 323.40)" stroke="#111" stroke-width="0.22">22RV1</text>
<text x="362.30" y="323.40" font-size="8.3" text-anchor="end" fill="#111" font-weight="normal" transform="rotate(-45 362.30 323.40)" stroke="#111" stroke-width="0.22">22RV1 R-ADT</text>
<rect x="379.40" y="202.10" width="8.40" height="4.70" fill="#dcdcdc" stroke="#333" stroke-width="0.9"/>
<text x="392.40" y="207.60" font-size="8.8" text-anchor="start" fill="#222" font-weight="normal"  stroke="#222" stroke-width="0.141">G<tspan font-size="6" dy="1.6">2</tspan><tspan dy="-1.6">/M</tspan></text>
<rect x="379.40" y="214.60" width="8.40" height="4.70" fill="#999" stroke="#333" stroke-width="0.9"/>
<text x="392.40" y="220.10" font-size="8.8" text-anchor="start" fill="#222" font-weight="normal"  stroke="#222" stroke-width="0.141">S</text>
<rect x="379.40" y="227.10" width="8.40" height="4.70" fill="#fff" stroke="#333" stroke-width="0.9"/>
<text x="392.40" y="232.60" font-size="8.8" text-anchor="start" fill="#222" font-weight="normal"  stroke="#222" stroke-width="0.141">G<tspan font-size="6" dy="1.6">0</tspan><tspan dy="-1.6">/G</tspan><tspan font-size="6" dy="1.6">1</tspan></text>
<line x1="175.70" y1="198.70" x2="175.70" y2="245.00" stroke="#9a9a9a" stroke-width="0.6" stroke-dasharray="0.9 0.4"/>
<line x1="175.70" y1="245.00" x2="228.70" y2="245.00" stroke="#666" stroke-width="0.7" stroke-dasharray="0.8 0.45"/>
<line x1="174.70" y1="245.00" x2="175.70" y2="245.00" stroke="#9a9a9a" stroke-width="0.5" />
<text x="172.80" y="245.55" font-size="1.5" text-anchor="end" fill="#666" font-weight="normal" >0</text>
<line x1="174.70" y1="238.39" x2="175.70" y2="238.39" stroke="#9a9a9a" stroke-width="0.5" />
<text x="172.80" y="238.94" font-size="1.5" text-anchor="end" fill="#666" font-weight="normal" >10</text>
<line x1="174.70" y1="231.77" x2="175.70" y2="231.77" stroke="#9a9a9a" stroke-width="0.5" />
<text x="172.80" y="232.32" font-size="1.5" text-anchor="end" fill="#666" font-weight="normal" >20</text>
<line x1="174.70" y1="225.16" x2="175.70" y2="225.16" stroke="#9a9a9a" stroke-width="0.5" />
<text x="172.80" y="225.71" font-size="1.5" text-anchor="end" fill="#666" font-weight="normal" >30</text>
<line x1="174.70" y1="218.54" x2="175.70" y2="218.54" stroke="#9a9a9a" stroke-width="0.5" />
<text x="172.80" y="219.09" font-size="1.5" text-anchor="end" fill="#666" font-weight="normal" >40</text>
<line x1="174.70" y1="211.93" x2="175.70" y2="211.93" stroke="#9a9a9a" stroke-width="0.5" />
<text x="172.80" y="212.48" font-size="1.5" text-anchor="end" fill="#666" font-weight="normal" >50</text>
<line x1="174.70" y1="205.31" x2="175.70" y2="205.31" stroke="#9a9a9a" stroke-width="0.5" />
<text x="172.80" y="205.86" font-size="1.5" text-anchor="end" fill="#666" font-weight="normal" >60</text>
<line x1="174.70" y1="198.70" x2="175.70" y2="198.70" stroke="#9a9a9a" stroke-width="0.5" />
<text x="172.80" y="199.25" font-size="1.5" text-anchor="end" fill="#666" font-weight="normal" >70</text>
<line x1="175.70" y1="245.00" x2="175.70" y2="246.00" stroke="#9a9a9a" stroke-width="0.5" />
<text x="175.70" y="248.30" font-size="1.5" text-anchor="middle" fill="#666" font-weight="normal" >0</text>
<line x1="188.95" y1="245.00" x2="188.95" y2="246.00" stroke="#9a9a9a" stroke-width="0.5" />
<text x="188.95" y="248.30" font-size="1.5" text-anchor="middle" fill="#666" font-weight="normal" >50</text>
<line x1="202.20" y1="245.00" x2="202.20" y2="246.00" stroke="#9a9a9a" stroke-width="0.5" />
<text x="202.20" y="248.30" font-size="1.5" text-anchor="middle" fill="#666" font-weight="normal" >100</text>
<line x1="215.45" y1="245.00" x2="215.45" y2="246.00" stroke="#9a9a9a" stroke-width="0.5" />
<text x="215.45" y="248.30" font-size="1.5" text-anchor="middle" fill="#666" font-weight="normal" >150</text>
<line x1="228.70" y1="245.00" x2="228.70" y2="246.00" stroke="#9a9a9a" stroke-width="0.5" />
<text x="228.70" y="248.30" font-size="1.5" text-anchor="middle" fill="#666" font-weight="normal" >200</text>
<text x="203.70" y="195.10" font-size="6.55" text-anchor="middle" fill="#111" font-weight="bold" stroke="none">LNCaP</text>
<path d="M186.00,245.00 Q187.50,237.00 188.15,204.40 L188.65,204.40 Q189.30,237.00 190.80,245.00 Z" fill="#dedede" stroke="#4a4a4a" stroke-width="0.6"/>
<path d="M187.60,245.00 C189.40,236.80 191.40,237.50 196.50,238.10 L201.50,245.00 Z" fill="#3a3a3a" stroke="#333" stroke-width="0.4"/>
<polygon points="195.00,243.00 197.40,236.30 198.80,236.30 200.60,244.00" fill="none" stroke="#999" stroke-width="0.5"/>
<text x="201.20" y="250.60" font-size="2.0" text-anchor="middle" fill="#888" font-weight="normal" >FL2-A</text>
<text x="170.10" y="221.85" font-size="1.8" text-anchor="middle" fill="#777" font-weight="normal" transform="rotate(-90 170.10 221.85)" >Count</text>
<line x1="175.70" y1="266.00" x2="175.70" y2="312.60" stroke="#9a9a9a" stroke-width="0.6" stroke-dasharray="0.9 0.4"/>
<line x1="175.70" y1="312.60" x2="228.70" y2="312.60" stroke="#666" stroke-width="0.7" stroke-dasharray="0.8 0.45"/>
<line x1="174.70" y1="312.60" x2="175.70" y2="312.60" stroke="#9a9a9a" stroke-width="0.5" />
<text x="172.80" y="313.15" font-size="1.5" text-anchor="end" fill="#666" font-weight="normal" >0</text>
<line x1="174.70" y1="304.83" x2="175.70" y2="304.83" stroke="#9a9a9a" stroke-width="0.5" />
<text x="172.80" y="305.38" font-size="1.5" text-anchor="end" fill="#666" font-weight="normal" >10</text>
<line x1="174.70" y1="297.07" x2="175.70" y2="297.07" stroke="#9a9a9a" stroke-width="0.5" />
<text x="172.80" y="297.62" font-size="1.5" text-anchor="end" fill="#666" font-weight="normal" >20</text>
<line x1="174.70" y1="289.30" x2="175.70" y2="289.30" stroke="#9a9a9a" stroke-width="0.5" />
<text x="172.80" y="289.85" font-size="1.5" text-anchor="end" fill="#666" font-weight="normal" >30</text>
<line x1="174.70" y1="281.53" x2="175.70" y2="281.53" stroke="#9a9a9a" stroke-width="0.5" />
<text x="172.80" y="282.08" font-size="1.5" text-anchor="end" fill="#666" font-weight="normal" >40</text>
<line x1="174.70" y1="273.77" x2="175.70" y2="273.77" stroke="#9a9a9a" stroke-width="0.5" />
<text x="172.80" y="274.32" font-size="1.5" text-anchor="end" fill="#666" font-weight="normal" >50</text>
<line x1="174.70" y1="266.00" x2="175.70" y2="266.00" stroke="#9a9a9a" stroke-width="0.5" />
<text x="172.80" y="266.55" font-size="1.5" text-anchor="end" fill="#666" font-weight="normal" >60</text>
<line x1="175.70" y1="312.60" x2="175.70" y2="313.60" stroke="#9a9a9a" stroke-width="0.5" />
<text x="175.70" y="315.90" font-size="1.5" text-anchor="middle" fill="#666" font-weight="normal" >0</text>
<line x1="188.95" y1="312.60" x2="188.95" y2="313.60" stroke="#9a9a9a" stroke-width="0.5" />
<text x="188.95" y="315.90" font-size="1.5" text-anchor="middle" fill="#666" font-weight="normal" >50</text>
<line x1="202.20" y1="312.60" x2="202.20" y2="313.60" stroke="#9a9a9a" stroke-width="0.5" />
<text x="202.20" y="315.90" font-size="1.5" text-anchor="middle" fill="#666" font-weight="normal" >100</text>
<line x1="215.45" y1="312.60" x2="215.45" y2="313.60" stroke="#9a9a9a" stroke-width="0.5" />
<text x="215.45" y="315.90" font-size="1.5" text-anchor="middle" fill="#666" font-weight="normal" >150</text>
<line x1="228.70" y1="312.60" x2="228.70" y2="313.60" stroke="#9a9a9a" stroke-width="0.5" />
<text x="228.70" y="315.90" font-size="1.5" text-anchor="middle" fill="#666" font-weight="normal" >200</text>
<text x="209.00" y="262.00" font-size="6.55" text-anchor="middle" fill="#111" font-weight="bold" stroke="none">LNCaP R-ADT</text>
<path d="M185.90,312.60 Q188.00,304.60 188.65,270.60 L189.15,270.60 Q189.80,304.60 191.90,312.60 Z" fill="#dedede" stroke="#4a4a4a" stroke-width="0.6"/>
<path d="M188.10,312.60 C189.90,304.50 191.90,305.20 197.40,305.80 L203.70,312.60 Z" fill="#3a3a3a" stroke="#333" stroke-width="0.4"/>
<polygon points="195.90,310.60 198.30,304.00 199.70,304.00 201.50,311.60" fill="none" stroke="#999" stroke-width="0.5"/>
<text x="201.20" y="318.20" font-size="2.0" text-anchor="middle" fill="#888" font-weight="normal" >FL2-A</text>
<text x="170.10" y="289.30" font-size="1.8" text-anchor="middle" fill="#777" font-weight="normal" transform="rotate(-90 170.10 289.30)" >Count</text>
<line x1="428.60" y1="197.60" x2="428.60" y2="244.20" stroke="#9a9a9a" stroke-width="0.6" stroke-dasharray="0.9 0.4"/>
<line x1="428.60" y1="244.20" x2="480.50" y2="244.20" stroke="#666" stroke-width="0.7" stroke-dasharray="0.8 0.45"/>
<line x1="427.60" y1="244.20" x2="428.60" y2="244.20" stroke="#9a9a9a" stroke-width="0.5" />
<text x="425.70" y="244.75" font-size="1.5" text-anchor="end" fill="#666" font-weight="normal" >0</text>
<line x1="427.60" y1="234.88" x2="428.60" y2="234.88" stroke="#9a9a9a" stroke-width="0.5" />
<text x="425.70" y="235.43" font-size="1.5" text-anchor="end" fill="#666" font-weight="normal" >30</text>
<line x1="427.60" y1="225.56" x2="428.60" y2="225.56" stroke="#9a9a9a" stroke-width="0.5" />
<text x="425.70" y="226.11" font-size="1.5" text-anchor="end" fill="#666" font-weight="normal" >60</text>
<line x1="427.60" y1="216.24" x2="428.60" y2="216.24" stroke="#9a9a9a" stroke-width="0.5" />
<text x="425.70" y="216.79" font-size="1.5" text-anchor="end" fill="#666" font-weight="normal" >90</text>
<line x1="427.60" y1="206.92" x2="428.60" y2="206.92" stroke="#9a9a9a" stroke-width="0.5" />
<text x="425.70" y="207.47" font-size="1.5" text-anchor="end" fill="#666" font-weight="normal" >120</text>
<line x1="427.60" y1="197.60" x2="428.60" y2="197.60" stroke="#9a9a9a" stroke-width="0.5" />
<text x="425.70" y="198.15" font-size="1.5" text-anchor="end" fill="#666" font-weight="normal" >150</text>
<line x1="428.60" y1="244.20" x2="428.60" y2="245.20" stroke="#9a9a9a" stroke-width="0.5" />
<text x="428.60" y="247.50" font-size="1.5" text-anchor="middle" fill="#666" font-weight="normal" >0</text>
<line x1="441.58" y1="244.20" x2="441.58" y2="245.20" stroke="#9a9a9a" stroke-width="0.5" />
<text x="441.58" y="247.50" font-size="1.5" text-anchor="middle" fill="#666" font-weight="normal" >50</text>
<line x1="454.55" y1="244.20" x2="454.55" y2="245.20" stroke="#9a9a9a" stroke-width="0.5" />
<text x="454.55" y="247.50" font-size="1.5" text-anchor="middle" fill="#666" font-weight="normal" >100</text>
<line x1="467.52" y1="244.20" x2="467.52" y2="245.20" stroke="#9a9a9a" stroke-width="0.5" />
<text x="467.52" y="247.50" font-size="1.5" text-anchor="middle" fill="#666" font-weight="normal" >150</text>
<line x1="480.50" y1="244.20" x2="480.50" y2="245.20" stroke="#9a9a9a" stroke-width="0.5" />
<text x="480.50" y="247.50" font-size="1.5" text-anchor="middle" fill="#666" font-weight="normal" >200</text>
<text x="464.20" y="197.50" font-size="6.55" text-anchor="middle" fill="#111" font-weight="bold" stroke="none">22RV1</text>
<path d="M439.80,244.20 Q441.20,238.20 441.65,200.30 L441.95,200.30 Q442.40,238.20 443.80,244.20 Z" fill="#a8a8a8" stroke="#555" stroke-width="0.55"/>
<rect x="441.80" y="241.80" width="14.50" height="2.4" fill="#444"/>
<path d="M452.50,244.20 Q454.10,241.20 454.70,233.40 Q455.30,241.20 457.10,244.20 Z" fill="#6e6e6e" stroke="#666" stroke-width="0.4"/>
<text x="453.55" y="249.80" font-size="2.0" text-anchor="middle" fill="#888" font-weight="normal" >FL2-A</text>
<text x="423.00" y="220.90" font-size="1.8" text-anchor="middle" fill="#777" font-weight="normal" transform="rotate(-90 423.00 220.90)" >Count</text>
<line x1="431.30" y1="266.10" x2="431.30" y2="312.10" stroke="#9a9a9a" stroke-width="0.6" stroke-dasharray="0.9 0.4"/>
<line x1="431.30" y1="312.10" x2="483.00" y2="312.10" stroke="#666" stroke-width="0.7" stroke-dasharray="0.8 0.45"/>
<line x1="430.30" y1="312.10" x2="431.30" y2="312.10" stroke="#9a9a9a" stroke-width="0.5" />
<text x="428.40" y="312.65" font-size="1.5" text-anchor="end" fill="#666" font-weight="normal" >0</text>
<line x1="430.30" y1="302.90" x2="431.30" y2="302.90" stroke="#9a9a9a" stroke-width="0.5" />
<text x="428.40" y="303.45" font-size="1.5" text-anchor="end" fill="#666" font-weight="normal" >30</text>
<line x1="430.30" y1="293.70" x2="431.30" y2="293.70" stroke="#9a9a9a" stroke-width="0.5" />
<text x="428.40" y="294.25" font-size="1.5" text-anchor="end" fill="#666" font-weight="normal" >60</text>
<line x1="430.30" y1="284.50" x2="431.30" y2="284.50" stroke="#9a9a9a" stroke-width="0.5" />
<text x="428.40" y="285.05" font-size="1.5" text-anchor="end" fill="#666" font-weight="normal" >90</text>
<line x1="430.30" y1="275.30" x2="431.30" y2="275.30" stroke="#9a9a9a" stroke-width="0.5" />
<text x="428.40" y="275.85" font-size="1.5" text-anchor="end" fill="#666" font-weight="normal" >120</text>
<line x1="430.30" y1="266.10" x2="431.30" y2="266.10" stroke="#9a9a9a" stroke-width="0.5" />
<text x="428.40" y="266.65" font-size="1.5" text-anchor="end" fill="#666" font-weight="normal" >150</text>
<line x1="431.30" y1="312.10" x2="431.30" y2="313.10" stroke="#9a9a9a" stroke-width="0.5" />
<text x="431.30" y="315.40" font-size="1.5" text-anchor="middle" fill="#666" font-weight="normal" >0</text>
<line x1="444.23" y1="312.10" x2="444.23" y2="313.10" stroke="#9a9a9a" stroke-width="0.5" />
<text x="444.23" y="315.40" font-size="1.5" text-anchor="middle" fill="#666" font-weight="normal" >50</text>
<line x1="457.15" y1="312.10" x2="457.15" y2="313.10" stroke="#9a9a9a" stroke-width="0.5" />
<text x="457.15" y="315.40" font-size="1.5" text-anchor="middle" fill="#666" font-weight="normal" >100</text>
<line x1="470.07" y1="312.10" x2="470.07" y2="313.10" stroke="#9a9a9a" stroke-width="0.5" />
<text x="470.07" y="315.40" font-size="1.5" text-anchor="middle" fill="#666" font-weight="normal" >150</text>
<line x1="483.00" y1="312.10" x2="483.00" y2="313.10" stroke="#9a9a9a" stroke-width="0.5" />
<text x="483.00" y="315.40" font-size="1.5" text-anchor="middle" fill="#666" font-weight="normal" >200</text>
<text x="470.20" y="264.30" font-size="6.55" text-anchor="middle" fill="#111" font-weight="bold" stroke="none">22RV1 R-ADT</text>
<path d="M442.80,312.10 Q444.10,306.10 444.55,267.40 L444.85,267.40 Q445.30,306.10 446.60,312.10 Z" fill="#a8a8a8" stroke="#555" stroke-width="0.55"/>
<rect x="444.70" y="309.70" width="14.80" height="2.4" fill="#444"/>
<path d="M455.40,312.10 Q457.00,309.10 457.60,305.60 Q458.20,309.10 460.00,312.10 Z" fill="#6e6e6e" stroke="#666" stroke-width="0.4"/>
<text x="456.15" y="317.70" font-size="2.0" text-anchor="middle" fill="#888" font-weight="normal" >FL2-A</text>
<text x="425.70" y="289.10" font-size="1.8" text-anchor="middle" fill="#777" font-weight="normal" transform="rotate(-90 425.70 289.10)" >Count</text>
<line x1="50.60" y1="514.00" x2="50.60" y2="417.50" stroke="#1a1a1a" stroke-width="1.15" />
<line x1="50.60" y1="412.00" x2="50.60" y2="395.70" stroke="#1a1a1a" stroke-width="1.15" />
<line x1="48.40" y1="412.60" x2="52.80" y2="411.40" stroke="#1a1a1a" stroke-width="0.8" />
<line x1="48.00" y1="417.50" x2="53.20" y2="417.50" stroke="#1a1a1a" stroke-width="0.8" />
<line x1="50.20" y1="513.60" x2="227.50" y2="513.60" stroke="#1a1a1a" stroke-width="1.15" />
<line x1="47.60" y1="513.60" x2="50.60" y2="513.60" stroke="#1a1a1a" stroke-width="0.8" />
<text x="46.80" y="516.20" font-size="7.2" text-anchor="end" fill="#222" font-weight="normal"  stroke="#222" stroke-width="0.115">0</text>
<line x1="49.00" y1="507.20" x2="50.60" y2="507.20" stroke="#1a1a1a" stroke-width="0.6" />
<line x1="49.00" y1="500.80" x2="50.60" y2="500.80" stroke="#1a1a1a" stroke-width="0.6" />
<line x1="49.00" y1="494.40" x2="50.60" y2="494.40" stroke="#1a1a1a" stroke-width="0.6" />
<line x1="49.00" y1="488.00" x2="50.60" y2="488.00" stroke="#1a1a1a" stroke-width="0.6" />
<line x1="47.60" y1="481.60" x2="50.60" y2="481.60" stroke="#1a1a1a" stroke-width="0.8" />
<text x="46.80" y="484.20" font-size="7.2" text-anchor="end" fill="#222" font-weight="normal"  stroke="#222" stroke-width="0.115">5</text>
<line x1="49.00" y1="475.20" x2="50.60" y2="475.20" stroke="#1a1a1a" stroke-width="0.6" />
<line x1="49.00" y1="468.80" x2="50.60" y2="468.80" stroke="#1a1a1a" stroke-width="0.6" />
<line x1="49.00" y1="462.40" x2="50.60" y2="462.40" stroke="#1a1a1a" stroke-width="0.6" />
<line x1="49.00" y1="456.00" x2="50.60" y2="456.00" stroke="#1a1a1a" stroke-width="0.6" />
<line x1="47.60" y1="449.60" x2="50.60" y2="449.60" stroke="#1a1a1a" stroke-width="0.8" />
<text x="46.80" y="452.20" font-size="7.2" text-anchor="end" fill="#222" font-weight="normal"  stroke="#222" stroke-width="0.115">10</text>
<line x1="49.00" y1="443.20" x2="50.60" y2="443.20" stroke="#1a1a1a" stroke-width="0.6" />
<line x1="49.00" y1="436.80" x2="50.60" y2="436.80" stroke="#1a1a1a" stroke-width="0.6" />
<line x1="49.00" y1="430.40" x2="50.60" y2="430.40" stroke="#1a1a1a" stroke-width="0.6" />
<line x1="49.00" y1="424.00" x2="50.60" y2="424.00" stroke="#1a1a1a" stroke-width="0.6" />
<line x1="47.60" y1="417.60" x2="50.60" y2="417.60" stroke="#1a1a1a" stroke-width="0.8" />
<text x="46.80" y="420.20" font-size="7.2" text-anchor="end" fill="#222" font-weight="normal"  stroke="#222" stroke-width="0.115">15</text>
<line x1="47.60" y1="395.80" x2="50.60" y2="395.80" stroke="#1a1a1a" stroke-width="0.8" />
<text x="46.80" y="398.40" font-size="7.2" text-anchor="end" fill="#222" font-weight="normal"  stroke="#222" stroke-width="0.115">25</text>
<line x1="49.10" y1="397.80" x2="50.60" y2="397.80" stroke="#1a1a1a" stroke-width="0.5" />
<line x1="49.10" y1="399.80" x2="50.60" y2="399.80" stroke="#1a1a1a" stroke-width="0.5" />
<line x1="49.10" y1="401.80" x2="50.60" y2="401.80" stroke="#1a1a1a" stroke-width="0.5" />
<line x1="49.10" y1="403.80" x2="50.60" y2="403.80" stroke="#1a1a1a" stroke-width="0.5" />
<line x1="49.10" y1="405.80" x2="50.60" y2="405.80" stroke="#1a1a1a" stroke-width="0.5" />
<line x1="49.10" y1="407.80" x2="50.60" y2="407.80" stroke="#1a1a1a" stroke-width="0.5" />
<line x1="49.10" y1="409.80" x2="50.60" y2="409.80" stroke="#1a1a1a" stroke-width="0.5" />
<line x1="50.60" y1="507.30" x2="227.50" y2="507.30" stroke="#999" stroke-width="0.6" stroke-dasharray="0.9 0.9"/>
<line x1="60.90" y1="513.60" x2="60.90" y2="516.20" stroke="#1a1a1a" stroke-width="0.8" />
<line x1="60.90" y1="470.40" x2="60.90" y2="469.76" stroke="#111" stroke-width="1.0" />
<line x1="58.30" y1="469.76" x2="63.50" y2="469.76" stroke="#111" stroke-width="1.0" />
<rect x="57.00" y="470.40" width="7.80" height="43.20" fill="#fff" stroke="#111" stroke-width="0.9"/>
<line x1="73.98" y1="513.60" x2="73.98" y2="516.20" stroke="#1a1a1a" stroke-width="0.8" />
<line x1="73.98" y1="472.32" x2="73.98" y2="470.40" stroke="#111" stroke-width="1.0" />
<line x1="71.38" y1="470.40" x2="76.58" y2="470.40" stroke="#111" stroke-width="1.0" />
<rect x="70.08" y="472.32" width="7.80" height="41.28" fill="#000" stroke="#111" stroke-width="0.9"/>
<line x1="87.06" y1="513.60" x2="87.06" y2="516.20" stroke="#1a1a1a" stroke-width="0.8" />
<line x1="87.06" y1="504.00" x2="87.06" y2="502.08" stroke="#111" stroke-width="1.0" />
<line x1="84.46" y1="502.08" x2="89.66" y2="502.08" stroke="#111" stroke-width="1.0" />
<rect x="83.16" y="504.00" width="7.80" height="9.60" fill="#999" stroke="#111" stroke-width="0.9"/>
<line x1="100.14" y1="513.60" x2="100.14" y2="516.20" stroke="#1a1a1a" stroke-width="0.8" />
<line x1="100.14" y1="505.92" x2="100.14" y2="504.00" stroke="#111" stroke-width="1.0" />
<line x1="97.54" y1="504.00" x2="102.74" y2="504.00" stroke="#111" stroke-width="1.0" />
<rect x="96.24" y="505.92" width="7.80" height="7.68" fill="#dcdcdc" stroke="#111" stroke-width="0.9"/>
<line x1="113.22" y1="513.60" x2="113.22" y2="516.20" stroke="#1a1a1a" stroke-width="0.8" />
<line x1="113.22" y1="513.47" x2="113.22" y2="513.15" stroke="#111" stroke-width="1.0" />
<line x1="110.62" y1="513.15" x2="115.82" y2="513.15" stroke="#111" stroke-width="1.0" />
<rect x="109.32" y="513.47" width="7.80" height="0.13" fill="#000" stroke="#111" stroke-width="0.9"/>
<line x1="126.30" y1="513.60" x2="126.30" y2="516.20" stroke="#1a1a1a" stroke-width="0.8" />
<line x1="126.30" y1="509.12" x2="126.30" y2="508.48" stroke="#111" stroke-width="1.0" />
<line x1="123.70" y1="508.48" x2="128.90" y2="508.48" stroke="#111" stroke-width="1.0" />
<rect x="122.40" y="509.12" width="7.80" height="4.48" fill="#000" stroke="#111" stroke-width="0.9"/>
<line x1="139.38" y1="513.60" x2="139.38" y2="516.20" stroke="#1a1a1a" stroke-width="0.8" />
<line x1="139.38" y1="486.40" x2="139.38" y2="480.00" stroke="#111" stroke-width="1.0" />
<line x1="136.78" y1="480.00" x2="141.98" y2="480.00" stroke="#111" stroke-width="1.0" />
<rect x="135.48" y="486.40" width="7.80" height="27.20" fill="#000" stroke="#111" stroke-width="0.9"/>
<line x1="152.46" y1="513.60" x2="152.46" y2="516.20" stroke="#1a1a1a" stroke-width="0.8" />
<line x1="152.46" y1="422.40" x2="152.46" y2="420.80" stroke="#111" stroke-width="1.0" />
<line x1="149.86" y1="420.80" x2="155.06" y2="420.80" stroke="#111" stroke-width="1.0" />
<rect x="148.56" y="422.40" width="7.80" height="91.20" fill="#000" stroke="#111" stroke-width="0.9"/>
<line x1="165.54" y1="513.60" x2="165.54" y2="516.20" stroke="#1a1a1a" stroke-width="0.8" />
<line x1="165.54" y1="496.32" x2="165.54" y2="495.81" stroke="#111" stroke-width="1.0" />
<line x1="162.94" y1="495.81" x2="168.14" y2="495.81" stroke="#111" stroke-width="1.0" />
<rect x="161.64" y="496.32" width="7.80" height="17.28" fill="#000" stroke="#111" stroke-width="0.9"/>
<line x1="178.62" y1="513.60" x2="178.62" y2="516.20" stroke="#1a1a1a" stroke-width="0.8" />
<rect x="174.72" y="417.50" width="7.80" height="96.10" fill="#000" stroke="#1a1a1a" stroke-width="0.6"/>
<rect x="174.72" y="400.50" width="7.80" height="11.30" fill="#000" stroke="#1a1a1a" stroke-width="0.6"/>
<line x1="178.62" y1="400.50" x2="178.62" y2="400.00" stroke="#000" stroke-width="0.8" />
<line x1="176.42" y1="400.00" x2="180.82" y2="400.00" stroke="#000" stroke-width="0.8" />
<line x1="191.70" y1="513.60" x2="191.70" y2="516.20" stroke="#1a1a1a" stroke-width="0.8" />
<line x1="191.70" y1="451.52" x2="191.70" y2="449.60" stroke="#111" stroke-width="1.0" />
<line x1="189.10" y1="449.60" x2="194.30" y2="449.60" stroke="#111" stroke-width="1.0" />
<rect x="187.80" y="451.52" width="7.80" height="62.08" fill="#000" stroke="#111" stroke-width="0.9"/>
<line x1="204.78" y1="513.60" x2="204.78" y2="516.20" stroke="#1a1a1a" stroke-width="0.8" />
<line x1="204.78" y1="422.08" x2="204.78" y2="421.44" stroke="#111" stroke-width="1.0" />
<line x1="202.18" y1="421.44" x2="207.38" y2="421.44" stroke="#111" stroke-width="1.0" />
<rect x="200.88" y="422.08" width="7.80" height="91.52" fill="#000" stroke="#111" stroke-width="0.9"/>
<line x1="217.86" y1="513.60" x2="217.86" y2="516.20" stroke="#1a1a1a" stroke-width="0.8" />
<line x1="217.86" y1="513.47" x2="217.86" y2="512.51" stroke="#111" stroke-width="1.0" />
<line x1="215.26" y1="512.51" x2="220.46" y2="512.51" stroke="#111" stroke-width="1.0" />
<rect x="213.96" y="513.47" width="7.80" height="0.13" fill="#000" stroke="#111" stroke-width="0.9"/>
<text x="61.60" y="521.60" font-size="7.8" text-anchor="end" fill="#111" font-weight="normal" transform="rotate(-41 61.60 521.60)" stroke="#111" stroke-width="0.15"><tspan font-style="italic" dx="0 -2.8">AR</tspan><tspan dx="0.80 -0.20 -0.68 -0.20 -0.20 -0.20"> Total</tspan></text>
<text x="74.68" y="521.60" font-size="7.8" text-anchor="end" fill="#111" font-weight="normal" transform="rotate(-41 74.68 521.60)" stroke="#111" stroke-width="0.15"><tspan font-style="italic" dx="0 -2.8">AR</tspan><tspan dx="0.80 -0.20 -0.20 -0.20 -0.20 -0.20 -0.20 -0.20 -0.20 -0.20 -0.20 -0.20"> full length</tspan></text>
<text x="87.76" y="521.60" font-size="7.8" text-anchor="end" fill="#111" font-weight="normal" transform="rotate(-41 87.76 521.60)" stroke="#111" stroke-width="0.15"><tspan font-style="italic" dx="0 -2.8">AR</tspan><tspan dx="0.80 -0.20 -0.20 -1.11"> -V7</tspan></text>
<text x="100.84" y="521.60" font-size="7.8" text-anchor="end" fill="#111" font-weight="normal" transform="rotate(-41 100.84 521.60)" stroke="#111" stroke-width="0.15"><tspan font-style="italic" dx="0 -2.8">AR</tspan><tspan dx="0.80 -0.20 -0.20 -1.11"> -V9</tspan></text>
<text x="113.92" y="521.60" font-size="7.8" text-anchor="end" fill="#111" font-weight="normal" transform="rotate(-41 113.92 521.60)" stroke="#111" stroke-width="0.15"><tspan dx="0 -1.54 -1.54 -1.11">CDK1</tspan></text>
<text x="127.00" y="521.60" font-size="7.8" text-anchor="end" fill="#111" font-weight="normal" transform="rotate(-41 127.00 521.60)" stroke="#111" stroke-width="0.15"><tspan dx="0 -1.54 -1.54 -1.11">CDK2</tspan></text>
<text x="140.08" y="521.60" font-size="7.8" text-anchor="end" fill="#111" font-weight="normal" transform="rotate(-41 140.08 521.60)" stroke="#111" stroke-width="0.15"><tspan dx="0 -0.68 -1.98 -0.68">FGF8</tspan></text>
<text x="153.16" y="521.60" font-size="7.8" text-anchor="end" fill="#111" font-weight="normal" transform="rotate(-41 153.16 521.60)" stroke="#111" stroke-width="0.15"><tspan dx="0 -0.68 -1.11 -1.11 -1.11">FKBP5</tspan></text>
<text x="166.24" y="521.60" font-size="7.8" text-anchor="end" fill="#111" font-weight="normal" transform="rotate(-41 166.24 521.60)" stroke="#111" stroke-width="0.15"><tspan dx="0 -1.11 -0.20 -0.20 -1.11">KL K3</tspan></text>
<text x="179.32" y="521.60" font-size="7.8" text-anchor="end" fill="#111" font-weight="normal" transform="rotate(-41 179.32 521.60)" stroke="#111" stroke-width="0.15"><tspan dx="0 -1.54 -1.54 -1.54 -1.98">NDRG1</tspan></text>
<text x="192.40" y="521.60" font-size="7.8" text-anchor="end" fill="#111" font-weight="normal" transform="rotate(-41 192.40 521.60)" stroke="#111" stroke-width="0.15"><tspan dx="0 -1.11 -2.41 -1.11 -0.20 -0.20 -1.11">PMEP A1</tspan></text>
<text x="205.48" y="521.60" font-size="7.8" text-anchor="end" fill="#111" font-weight="normal" transform="rotate(-41 205.48 521.60)" stroke="#111" stroke-width="0.15"><tspan dx="0 -0.68 -2.41 -1.11 -0.20 -0.20 -1.11 -1.11">TMPR SS2</tspan></text>
<text x="218.56" y="521.60" font-size="7.8" text-anchor="end" fill="#111" font-weight="normal" transform="rotate(-41 218.56 521.60)" stroke="#111" stroke-width="0.15"><tspan dx="0 -1.54 -1.11 -1.11 -0.20 -0.20">UBE2 C</tspan></text>
<text x="139.80" y="385.20" font-size="11.3" text-anchor="middle" fill="#1a1a1a" font-weight="normal"  stroke="#1a1a1a" stroke-width="0.181">LNCaP R-ADT</text>
<text x="23.30" y="453.50" font-size="7.8" text-anchor="middle" fill="#222" font-weight="normal" transform="rotate(-90 23.30 453.50)" letter-spacing="-0.26" stroke="#222" stroke-width="0.12">Relative expression</text>
<line x1="306.80" y1="513.70" x2="306.80" y2="391.20" stroke="#1a1a1a" stroke-width="1.15" />
<line x1="306.40" y1="513.30" x2="485.80" y2="513.30" stroke="#1a1a1a" stroke-width="1.15" />
<line x1="303.80" y1="513.30" x2="306.80" y2="513.30" stroke="#1a1a1a" stroke-width="0.8" />
<text x="303.00" y="515.90" font-size="7.2" text-anchor="end" fill="#222" font-weight="normal"  stroke="#222" stroke-width="0.115">0</text>
<line x1="305.20" y1="505.15" x2="306.80" y2="505.15" stroke="#1a1a1a" stroke-width="0.6" />
<line x1="305.20" y1="497.00" x2="306.80" y2="497.00" stroke="#1a1a1a" stroke-width="0.6" />
<line x1="305.20" y1="488.85" x2="306.80" y2="488.85" stroke="#1a1a1a" stroke-width="0.6" />
<line x1="305.20" y1="480.70" x2="306.80" y2="480.70" stroke="#1a1a1a" stroke-width="0.6" />
<line x1="303.80" y1="472.55" x2="306.80" y2="472.55" stroke="#1a1a1a" stroke-width="0.8" />
<text x="303.00" y="475.15" font-size="7.2" text-anchor="end" fill="#222" font-weight="normal"  stroke="#222" stroke-width="0.115">5</text>
<line x1="305.20" y1="464.40" x2="306.80" y2="464.40" stroke="#1a1a1a" stroke-width="0.6" />
<line x1="305.20" y1="456.25" x2="306.80" y2="456.25" stroke="#1a1a1a" stroke-width="0.6" />
<line x1="305.20" y1="448.10" x2="306.80" y2="448.10" stroke="#1a1a1a" stroke-width="0.6" />
<line x1="305.20" y1="439.95" x2="306.80" y2="439.95" stroke="#1a1a1a" stroke-width="0.6" />
<line x1="303.80" y1="431.80" x2="306.80" y2="431.80" stroke="#1a1a1a" stroke-width="0.8" />
<text x="303.00" y="434.40" font-size="7.2" text-anchor="end" fill="#222" font-weight="normal"  stroke="#222" stroke-width="0.115">10</text>
<line x1="305.20" y1="423.65" x2="306.80" y2="423.65" stroke="#1a1a1a" stroke-width="0.6" />
<line x1="305.20" y1="415.50" x2="306.80" y2="415.50" stroke="#1a1a1a" stroke-width="0.6" />
<line x1="305.20" y1="407.35" x2="306.80" y2="407.35" stroke="#1a1a1a" stroke-width="0.6" />
<line x1="305.20" y1="399.20" x2="306.80" y2="399.20" stroke="#1a1a1a" stroke-width="0.6" />
<line x1="303.80" y1="391.05" x2="306.80" y2="391.05" stroke="#1a1a1a" stroke-width="0.8" />
<text x="303.00" y="393.65" font-size="7.2" text-anchor="end" fill="#222" font-weight="normal"  stroke="#222" stroke-width="0.115">15</text>
<line x1="306.80" y1="505.20" x2="485.80" y2="505.20" stroke="#999" stroke-width="0.6" stroke-dasharray="0.9 0.9"/>
<line x1="317.50" y1="513.30" x2="317.50" y2="515.90" stroke="#1a1a1a" stroke-width="0.8" />
<line x1="317.50" y1="476.62" x2="317.50" y2="470.10" stroke="#111" stroke-width="1.0" />
<line x1="314.90" y1="470.10" x2="320.10" y2="470.10" stroke="#111" stroke-width="1.0" />
<rect x="313.60" y="476.62" width="7.80" height="36.68" fill="#fff" stroke="#111" stroke-width="0.9"/>
<line x1="330.58" y1="513.30" x2="330.58" y2="515.90" stroke="#1a1a1a" stroke-width="0.8" />
<line x1="330.58" y1="420.39" x2="330.58" y2="418.60" stroke="#111" stroke-width="1.0" />
<line x1="327.98" y1="418.60" x2="333.18" y2="418.60" stroke="#111" stroke-width="1.0" />
<rect x="326.68" y="420.39" width="7.80" height="92.91" fill="#000" stroke="#111" stroke-width="0.9"/>
<line x1="343.66" y1="513.30" x2="343.66" y2="515.90" stroke="#1a1a1a" stroke-width="0.8" />
<line x1="343.66" y1="461.95" x2="343.66" y2="459.67" stroke="#111" stroke-width="1.0" />
<line x1="341.06" y1="459.67" x2="346.26" y2="459.67" stroke="#111" stroke-width="1.0" />
<rect x="339.76" y="461.95" width="7.80" height="51.35" fill="#999" stroke="#111" stroke-width="0.9"/>
<line x1="356.74" y1="513.30" x2="356.74" y2="515.90" stroke="#1a1a1a" stroke-width="0.8" />
<line x1="356.74" y1="461.14" x2="356.74" y2="452.17" stroke="#111" stroke-width="1.0" />
<line x1="354.14" y1="452.17" x2="359.34" y2="452.17" stroke="#111" stroke-width="1.0" />
<rect x="352.84" y="461.14" width="7.80" height="52.16" fill="#dcdcdc" stroke="#111" stroke-width="0.9"/>
<line x1="369.82" y1="513.30" x2="369.82" y2="515.90" stroke="#1a1a1a" stroke-width="0.8" />
<line x1="369.82" y1="497.81" x2="369.82" y2="496.59" stroke="#111" stroke-width="1.0" />
<line x1="367.22" y1="496.59" x2="372.42" y2="496.59" stroke="#111" stroke-width="1.0" />
<rect x="365.92" y="497.81" width="7.80" height="15.49" fill="#000" stroke="#111" stroke-width="0.9"/>
<line x1="382.90" y1="513.30" x2="382.90" y2="515.90" stroke="#1a1a1a" stroke-width="0.8" />
<line x1="382.90" y1="491.70" x2="382.90" y2="491.05" stroke="#111" stroke-width="1.0" />
<line x1="380.30" y1="491.05" x2="385.50" y2="491.05" stroke="#111" stroke-width="1.0" />
<rect x="379.00" y="491.70" width="7.80" height="21.60" fill="#000" stroke="#111" stroke-width="0.9"/>
<line x1="395.98" y1="513.30" x2="395.98" y2="515.90" stroke="#1a1a1a" stroke-width="0.8" />
<line x1="395.98" y1="427.32" x2="395.98" y2="423.65" stroke="#111" stroke-width="1.0" />
<line x1="393.38" y1="423.65" x2="398.58" y2="423.65" stroke="#111" stroke-width="1.0" />
<rect x="392.08" y="427.32" width="7.80" height="85.98" fill="#000" stroke="#111" stroke-width="0.9"/>
<line x1="409.06" y1="513.30" x2="409.06" y2="515.90" stroke="#1a1a1a" stroke-width="0.8" />
<line x1="409.06" y1="482.74" x2="409.06" y2="482.25" stroke="#111" stroke-width="1.0" />
<line x1="406.46" y1="482.25" x2="411.66" y2="482.25" stroke="#111" stroke-width="1.0" />
<rect x="405.16" y="482.74" width="7.80" height="30.56" fill="#000" stroke="#111" stroke-width="0.9"/>
<line x1="422.14" y1="513.30" x2="422.14" y2="515.90" stroke="#1a1a1a" stroke-width="0.8" />
<line x1="422.14" y1="489.66" x2="422.14" y2="487.22" stroke="#111" stroke-width="1.0" />
<line x1="419.54" y1="487.22" x2="424.74" y2="487.22" stroke="#111" stroke-width="1.0" />
<rect x="418.24" y="489.66" width="7.80" height="23.63" fill="#000" stroke="#111" stroke-width="0.9"/>
<line x1="435.22" y1="513.30" x2="435.22" y2="515.90" stroke="#1a1a1a" stroke-width="0.8" />
<line x1="435.22" y1="476.62" x2="435.22" y2="476.14" stroke="#111" stroke-width="1.0" />
<line x1="432.62" y1="476.14" x2="437.82" y2="476.14" stroke="#111" stroke-width="1.0" />
<rect x="431.32" y="476.62" width="7.80" height="36.68" fill="#000" stroke="#111" stroke-width="0.9"/>
<line x1="448.30" y1="513.30" x2="448.30" y2="515.90" stroke="#1a1a1a" stroke-width="0.8" />
<line x1="448.30" y1="476.62" x2="448.30" y2="474.99" stroke="#111" stroke-width="1.0" />
<line x1="445.70" y1="474.99" x2="450.90" y2="474.99" stroke="#111" stroke-width="1.0" />
<rect x="444.40" y="476.62" width="7.80" height="36.68" fill="#000" stroke="#111" stroke-width="0.9"/>
<line x1="461.38" y1="513.30" x2="461.38" y2="515.90" stroke="#1a1a1a" stroke-width="0.8" />
<line x1="461.38" y1="436.45" x2="461.38" y2="435.79" stroke="#111" stroke-width="1.0" />
<line x1="458.78" y1="435.79" x2="463.98" y2="435.79" stroke="#111" stroke-width="1.0" />
<rect x="457.48" y="436.45" width="7.80" height="76.85" fill="#000" stroke="#111" stroke-width="0.9"/>
<line x1="474.46" y1="513.30" x2="474.46" y2="515.90" stroke="#1a1a1a" stroke-width="0.8" />
<line x1="474.46" y1="486.40" x2="474.46" y2="485.59" stroke="#111" stroke-width="1.0" />
<line x1="471.86" y1="485.59" x2="477.06" y2="485.59" stroke="#111" stroke-width="1.0" />
<rect x="470.56" y="486.40" width="7.80" height="26.89" fill="#000" stroke="#111" stroke-width="0.9"/>
<text x="318.20" y="521.60" font-size="7.8" text-anchor="end" fill="#111" font-weight="normal" transform="rotate(-41 318.20 521.60)" stroke="#111" stroke-width="0.15"><tspan font-style="italic" dx="0 -2.8">AR</tspan><tspan dx="0.80 -0.20 -0.68 -0.20 -0.20 -0.20"> Total</tspan></text>
<text x="331.28" y="521.60" font-size="7.8" text-anchor="end" fill="#111" font-weight="normal" transform="rotate(-41 331.28 521.60)" stroke="#111" stroke-width="0.15"><tspan font-style="italic" dx="0 -2.8">AR</tspan><tspan dx="0.80 -0.20 -0.20 -0.20 -0.20 -0.20 -0.20 -0.20 -0.20 -0.20 -0.20 -0.20"> full length</tspan></text>
<text x="344.36" y="521.60" font-size="7.8" text-anchor="end" fill="#111" font-weight="normal" transform="rotate(-41 344.36 521.60)" stroke="#111" stroke-width="0.15"><tspan font-style="italic" dx="0 -2.8">AR</tspan><tspan dx="0.80 -0.20 -0.20 -1.11"> -V7</tspan></text>
<text x="357.44" y="521.60" font-size="7.8" text-anchor="end" fill="#111" font-weight="normal" transform="rotate(-41 357.44 521.60)" stroke="#111" stroke-width="0.15"><tspan font-style="italic" dx="0 -2.8">AR</tspan><tspan dx="0.80 -0.20 -0.20 -1.11"> -V9</tspan></text>
<text x="370.52" y="521.60" font-size="7.8" text-anchor="end" fill="#111" font-weight="normal" transform="rotate(-41 370.52 521.60)" stroke="#111" stroke-width="0.15"><tspan dx="0 -1.54 -1.54 -1.11">CDK1</tspan></text>
<text x="383.60" y="521.60" font-size="7.8" text-anchor="end" fill="#111" font-weight="normal" transform="rotate(-41 383.60 521.60)" stroke="#111" stroke-width="0.15"><tspan dx="0 -1.54 -1.54 -1.11">CDK2</tspan></text>
<text x="396.68" y="521.60" font-size="7.8" text-anchor="end" fill="#111" font-weight="normal" transform="rotate(-41 396.68 521.60)" stroke="#111" stroke-width="0.15"><tspan dx="0 -0.68 -1.98 -0.68">FGF8</tspan></text>
<text x="409.76" y="521.60" font-size="7.8" text-anchor="end" fill="#111" font-weight="normal" transform="rotate(-41 409.76 521.60)" stroke="#111" stroke-width="0.15"><tspan dx="0 -0.68 -1.11 -1.11 -1.11">FKBP5</tspan></text>
<text x="422.84" y="521.60" font-size="7.8" text-anchor="end" fill="#111" font-weight="normal" transform="rotate(-41 422.84 521.60)" stroke="#111" stroke-width="0.15"><tspan dx="0 -1.11 -0.20 -0.20 -1.11">KL K3</tspan></text>
<text x="435.92" y="521.60" font-size="7.8" text-anchor="end" fill="#111" font-weight="normal" transform="rotate(-41 435.92 521.60)" stroke="#111" stroke-width="0.15"><tspan dx="0 -1.54 -1.54 -1.54 -1.98">NDRG1</tspan></text>
<text x="449.00" y="521.60" font-size="7.8" text-anchor="end" fill="#111" font-weight="normal" transform="rotate(-41 449.00 521.60)" stroke="#111" stroke-width="0.15"><tspan dx="0 -1.11 -2.41 -1.11 -0.20 -0.20 -1.11">PMEP A1</tspan></text>
<text x="462.08" y="521.60" font-size="7.8" text-anchor="end" fill="#111" font-weight="normal" transform="rotate(-41 462.08 521.60)" stroke="#111" stroke-width="0.15"><tspan dx="0 -0.68 -2.41 -1.11 -0.20 -0.20 -1.11 -1.11">TMPR SS2</tspan></text>
<text x="475.16" y="521.60" font-size="7.8" text-anchor="end" fill="#111" font-weight="normal" transform="rotate(-41 475.16 521.60)" stroke="#111" stroke-width="0.15"><tspan dx="0 -1.54 -1.11 -1.11 -0.20 -0.20">UBE2 C</tspan></text>
<text x="396.40" y="382.70" font-size="11.5" text-anchor="middle" fill="#1a1a1a" font-weight="normal"  stroke="#1a1a1a" stroke-width="0.184">22RV1 R-ADT</text>
<text x="278.10" y="450.80" font-size="7.8" text-anchor="middle" fill="#222" font-weight="normal" transform="rotate(-90 278.10 450.80)" letter-spacing="-0.26" stroke="#222" stroke-width="0.12">Relative expression</text>
</svg>
</body></html>
